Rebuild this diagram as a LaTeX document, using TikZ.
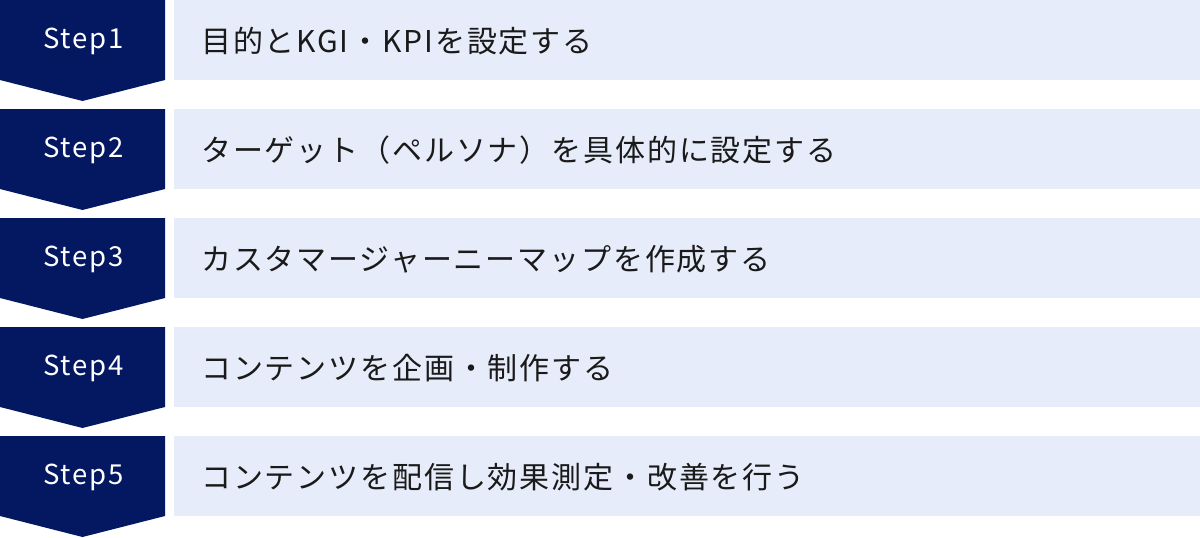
\documentclass[tikz,border=0pt]{standalone}
\usepackage{fontspec}
\setmainfont{Noto Sans CJK JP}
\newfontfamily\steplabelfont[LetterSpace=7]{Noto Sans CJK JP}
\newfontfamily\bodyfont[LetterSpace=6.2]{Noto Sans CJK JP}
\definecolor{navy}{RGB}{4,24,98}
\definecolor{pale}{RGB}{230,236,249}
\definecolor{ink}{RGB}{26,26,26}
\tikzset{
  chevron/.style={fill=navy, draw=none},
  panel/.style={fill=pale, draw=none},
  steplabel/.style={text=white, font=\steplabelfont\fontsize{27.5}{33}\selectfont, inner sep=0pt, anchor=center},
  bodytext/.style={text=ink, font=\bodyfont\fontsize{30}{36}\selectfont, inner sep=0pt, anchor=west},
}
\begin{document}
\begin{tikzpicture}[x=1pt,y=-1pt]
\useasboundingbox (0,0) rectangle (1200,538);
\foreach \i/\t in {1/{目的とKGI・KPIを設定する},
                   2/{ターゲット（ペルソナ）を具体的に設定する},
                   3/{カスタマージャーニーマップを作成する},
                   4/{コンテンツを企画・制作する},
                   5/{コンテンツを配信し効果測定・改善を行う}}{
  \pgfmathsetmacro{\yz}{(\i-1)*109}
  \fill[chevron] (0,\yz) -- (165,\yz) -- (165,\yz+80) -- (82.5,\yz+101) -- (0,\yz+80) -- cycle;
  \fill[panel] (174,\yz) rectangle (1200,\yz+79.5);
  \node[steplabel] (s\i) at (83.5,\yz+41) {Step\i};
  \node[bodytext] (t\i) at (201,\yz+41) {\t};
}
\end{tikzpicture}
\end{document}
